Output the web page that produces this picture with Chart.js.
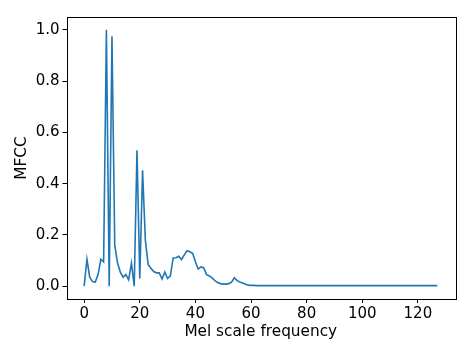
<!DOCTYPE html>
<html>
<head>
<meta charset="utf-8">
<script src="https://cdn.jsdelivr.net/npm/chart.js@4"></script>
<style>
  html, body { margin: 0; padding: 0; background: #fff; }
  #wrap { width: 474px; height: 355px; }
</style>
</head>
<body>
<div id="wrap"><canvas id="mfccChart" width="474" height="355"></canvas></div>
<script>
// MFCC values per mel bin (0..127)
const mfcc = [
  0.000, 0.105, 0.035, 0.018, 0.016, 0.045, 0.105, 0.095, 1.000, 0.000,
  0.975, 0.160, 0.090, 0.055, 0.035, 0.045, 0.025, 0.090, 0.000, 0.530,
  0.030, 0.452, 0.180, 0.085, 0.070, 0.057, 0.052, 0.052, 0.028, 0.055,
  0.030, 0.040, 0.110, 0.111, 0.117, 0.104, 0.122, 0.138, 0.134, 0.128,
  0.095, 0.067, 0.075, 0.072, 0.045, 0.040, 0.032, 0.022, 0.014, 0.010,
  0.008, 0.008, 0.010, 0.016, 0.033, 0.022, 0.016, 0.012, 0.008, 0.004,
  0.003, 0.003, 0.002, 0.002, 0.002, 0.002, 0.002, 0.002, 0.002, 0.002,
  0.002, 0.002, 0.002, 0.002, 0.002, 0.002, 0.002, 0.002, 0.002, 0.002,
  0.002, 0.002, 0.002, 0.002, 0.002, 0.002, 0.002, 0.002, 0.002, 0.002,
  0.002, 0.002, 0.002, 0.002, 0.002, 0.002, 0.002, 0.002, 0.002, 0.002,
  0.002, 0.002, 0.002, 0.002, 0.002, 0.002, 0.002, 0.002, 0.002, 0.002,
  0.002, 0.002, 0.002, 0.002, 0.002, 0.002, 0.002, 0.002, 0.002, 0.002,
  0.002, 0.002, 0.002, 0.002, 0.002, 0.002, 0.002, 0.002
];
const melBins = mfcc.map((v, i) => i);

// tick labels
const xTicks = [0, 20, 40, 60, 80, 100, 120];
const yTicks = [0.0, 0.2, 0.4, 0.6, 0.8, 1.0];

const FONT = 'DejaVu Sans';

// draws the full box around the plot area, like matplotlib
const frame = {
  id: 'frame',
  afterDraw(chart) {
    const a = chart.chartArea, ctx = chart.ctx;
    ctx.save();
    ctx.strokeStyle = '#000';
    ctx.lineWidth = 1;
    ctx.strokeRect(Math.round(a.left) + 0.5, Math.round(a.top) + 0.5,
      Math.round(a.right - a.left), Math.round(a.bottom - a.top));
    ctx.restore();
  }
};

const chart = new Chart('mfccChart', {
  type: 'line',
  data: {
    datasets: [{
      data: melBins.map((x, i) => ({ x: x, y: mfcc[i] })),
      borderColor: '#1f77b4',
      borderWidth: 1.6,
      pointRadius: 0,
      fill: false,
      tension: 0
    }]
  },
  options: {
    responsive: false,
    animation: false,
    layout: { padding: { left: 0, right: 19, top: 17, bottom: 0 } },
    plugins: { legend: { display: false }, tooltip: { enabled: false } },
    scales: {
      x: {
        type: 'linear',
        min: -6.35,
        max: 133.35,
        afterBuildTicks: s => { s.ticks = xTicks.map(v => ({ value: v })); },
        afterFit: s => { s.height = 56; },
        ticks: { color: '#000', font: { family: FONT, size: 15 }, padding: 2, maxRotation: 0 },
        grid: { drawOnChartArea: false, drawTicks: true, tickLength: 4, tickColor: '#000' },
        border: { display: false },
        title: { display: true, text: 'Mel scale frequency', color: '#000',
                 font: { family: FONT, size: 15.3 }, padding: { top: 0, bottom: 14 } }
      },
      y: {
        min: -0.05,
        max: 1.05,
        afterBuildTicks: s => { s.ticks = yTicks.map(v => ({ value: v })); },
        afterFit: s => { s.width = 66.5; },
        ticks: { color: '#000', font: { family: FONT, size: 15 }, padding: 3,
                 callback: v => v.toFixed(1) },
        grid: { drawOnChartArea: false, drawTicks: true, tickLength: 4, tickColor: '#000' },
        border: { display: false },
        title: { display: true, text: 'MFCC', color: '#000',
                 font: { family: FONT, size: 15.3 }, padding: { top: 13, bottom: 0 } }
      }
    }
  },
  plugins: [frame]
});
</script>
</body>
</html>
